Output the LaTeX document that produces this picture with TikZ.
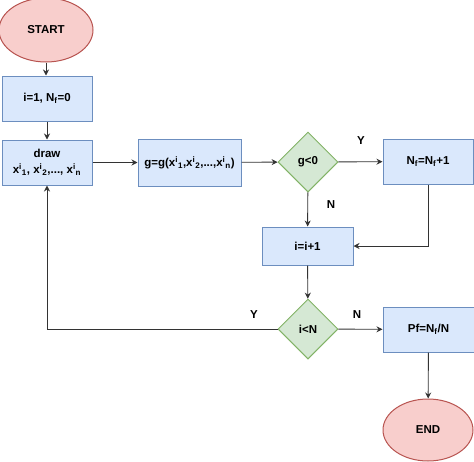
\documentclass[tikz,border=0pt]{standalone}
\usepackage{fontspec}
\setmainfont{Liberation Sans}
\usetikzlibrary{shapes.geometric,arrows.meta}
\definecolor{bfill}{HTML}{DAE8FC}\definecolor{bline}{HTML}{6C8EBF}
\definecolor{gfill}{HTML}{D5E8D4}\definecolor{gline}{HTML}{82B366}
\definecolor{rfill}{HTML}{F8CECC}\definecolor{rline}{HTML}{B85450}
\definecolor{eline}{HTML}{333333}
\tikzset{
  every node/.style={font=\fontsize{11.5}{14}\selectfont\bfseries, align=center},
  box/.style={rectangle, draw=bline, fill=bfill, line width=1pt, inner sep=0pt},
  dec/.style={diamond, draw=gline, fill=gfill, line width=1pt, inner sep=0pt, minimum width=60pt, minimum height=60pt},
  term/.style={ellipse, draw=rline, fill=rfill, line width=1pt, inner sep=0pt},
  edge/.style={draw=eline, line width=0.9pt, -{Stealth[length=6pt,width=6pt]}},
  lab/.style={font=\fontsize{11.5}{14}\selectfont\bfseries}
}
\begin{document}
\begin{tikzpicture}[x=1pt,y=-1pt]
\useasboundingbox (0,0) rectangle (474,461);
\node[term, minimum width=94pt, minimum height=64pt] (start) at (46,30) {START};
\node[box, minimum width=90pt, minimum height=45pt] (init) at (47,98.5) {i=1, N\textsubscript{f}=0};
\node[box, minimum width=90pt, minimum height=45pt] (drw) at (47,162.5) {draw\\[2pt] x\textsuperscript{i}\textsubscript{1}, x\textsuperscript{i}\textsubscript{2},..., x\textsuperscript{i}\textsubscript{n}};
\node[box, minimum width=103pt, minimum height=47pt] (gfun) at (189.5,162.5) {g=g(x\textsuperscript{i}\textsubscript{1},x\textsuperscript{i}\textsubscript{2},...,x\textsuperscript{i}\textsubscript{n})};
\node[dec] (g0) at (308,162) {g\textless 0};
\node[box, minimum width=90pt, minimum height=45pt] (nf) at (428,161.5) {N\textsubscript{f}=N\textsubscript{f}+1};
\node[box, minimum width=91pt, minimum height=38pt] (inc) at (307.5,246) {i=i+1};
\node[dec] (iN) at (308,329) {i\textless N};
\node[box, minimum width=91pt, minimum height=45pt] (pf) at (428.5,329.5) {Pf=N\textsubscript{f}/N};
\node[term, minimum width=90pt, minimum height=62pt] (end) at (428,430) {END};

\draw[edge] (start.south) -- (start.south |- init.north);
\draw[edge] (init) -- (drw);
\draw[edge] (drw) -- (gfun);
\draw[edge] (gfun) -- (g0);
\draw[edge] (g0) -- (nf);
\draw[edge] (g0) -- (inc);
\draw[edge] (nf.south) |- (inc.east);
\draw[edge] (inc) -- (iN);
\draw[edge] (iN.west) -| (drw.south);
\draw[edge] (iN) -- (pf);
\draw[edge] (pf) -- (end);

\node[lab] (y1) at (361,141) {Y};
\node[lab] (n1) at (331,205) {N};
\node[lab] (y2) at (254,315) {Y};
\node[lab] (n2) at (357,315) {N};
\end{tikzpicture}
\end{document}
